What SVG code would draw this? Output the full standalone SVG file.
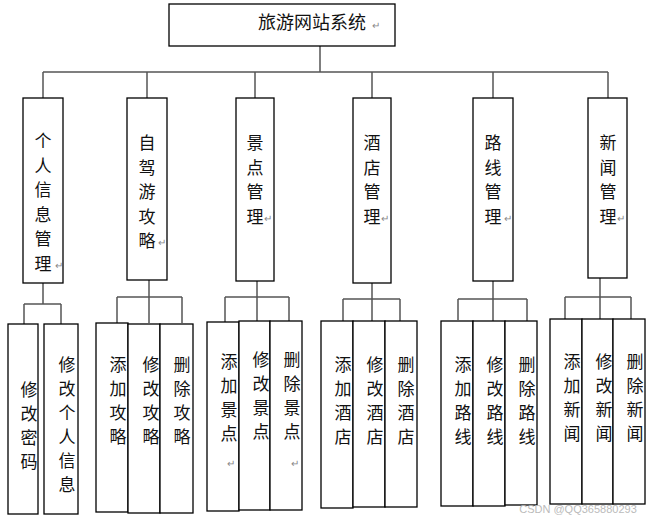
<svg xmlns="http://www.w3.org/2000/svg" width="658" height="521" viewBox="0 0 658 521">
<style>
rect{fill:#fff;stroke:#000;stroke-width:1.3}
.c{fill:none;stroke:#555;stroke-width:1.5}
text{font-family:"Noto Sans CJK SC","Noto Sans",sans-serif;font-size:17px;fill:#111;text-anchor:middle}
.m{font-size:10px;fill:#888}
</style>
<rect width="658" height="521" style="fill:#fff;stroke:none"/>
<g id="connectors">
<path class="c" d="M320 46V72M43 72H608M43 72V98M147 72V98M255 72V98M372 72V98M493 72V98M608 72V98"/>
<path class="c" d="M43 283V304M24 304H61M24 304V324M61 304V324"/>
<path class="c" d="M149 280V323M117 297H182M117 297V323M182 297V323"/>
<path class="c" d="M257 281V321M225 297H289M225 297V322M289 297V321"/>
<path class="c" d="M372 283V321M343 299H400M343 299V321M400 299V321"/>
<path class="c" d="M493 281V321M458 299H527M458 299V320M527 299V321"/>
<path class="c" d="M600 278V319M565 297H631M565 297V319M631 297V319"/>
</g>
<g id="root"><rect x="169" y="4" width="226" height="42"/><text x="312" y="29" style="font-size:18px">旅游网站系统</text><text class="m" x="376" y="29">↵</text></g>
<g id="n1"><rect x="23" y="98" width="40" height="185"/><text x="43" y="147"><tspan x="43">个</tspan><tspan x="43" dy="24.5">人</tspan><tspan x="43" dy="24.5">信</tspan><tspan x="43" dy="24.5">息</tspan><tspan x="43" dy="24.5">管</tspan><tspan x="43" dy="24.5">理</tspan></text><text class="m" x="59" y="269">↵</text></g>
<g id="n2"><rect x="127" y="98" width="40" height="182"/><text x="147" y="149"><tspan x="147">自</tspan><tspan x="147" dy="24.5">驾</tspan><tspan x="147" dy="24.5">游</tspan><tspan x="147" dy="24.5">攻</tspan><tspan x="147" dy="24.5">略</tspan></text><text class="m" x="162" y="246">↵</text></g>
<g id="n3"><rect x="236" y="98" width="38" height="183"/><text x="255" y="149"><tspan x="255">景</tspan><tspan x="255" dy="24.5">点</tspan><tspan x="255" dy="24.5">管</tspan><tspan x="255" dy="24.5">理</tspan></text><text class="m" x="268" y="222">↵</text></g>
<g id="n4"><rect x="353" y="98" width="38" height="185"/><text x="372" y="149"><tspan x="372">酒</tspan><tspan x="372" dy="24.5">店</tspan><tspan x="372" dy="24.5">管</tspan><tspan x="372" dy="24.5">理</tspan></text><text class="m" x="385" y="222">↵</text></g>
<g id="n5"><rect x="473" y="98" width="40" height="183"/><text x="493" y="149"><tspan x="493">路</tspan><tspan x="493" dy="24.5">线</tspan><tspan x="493" dy="24.5">管</tspan><tspan x="493" dy="24.5">理</tspan></text><text class="m" x="508" y="222">↵</text></g>
<g id="n6"><rect x="588" y="98" width="39" height="180"/><text x="608" y="149"><tspan x="608">新</tspan><tspan x="608" dy="24.5">闻</tspan><tspan x="608" dy="24.5">管</tspan><tspan x="608" dy="24.5">理</tspan></text><text class="m" x="621" y="222">↵</text></g>
<g id="n11"><rect x="8" y="324" width="30" height="190"/><text x="29" y="396"><tspan x="29">修</tspan><tspan x="29" dy="24">改</tspan><tspan x="29" dy="24">密</tspan><tspan x="29" dy="24">码</tspan></text></g>
<g id="n12"><rect x="44" y="324" width="34" height="190"/><text x="67" y="371"><tspan x="67">修</tspan><tspan x="67" dy="24">改</tspan><tspan x="67" dy="24">个</tspan><tspan x="67" dy="24">人</tspan><tspan x="67" dy="24">信</tspan><tspan x="67" dy="24">息</tspan></text></g>
<g id="n21"><rect x="96" y="323" width="32" height="189"/><text x="118" y="371"><tspan x="118">添</tspan><tspan x="118" dy="24">加</tspan><tspan x="118" dy="24">攻</tspan><tspan x="118" dy="24">略</tspan></text></g>
<g id="n22"><rect x="128" y="324" width="32" height="189"/><text x="151" y="371"><tspan x="151">修</tspan><tspan x="151" dy="24">改</tspan><tspan x="151" dy="24">攻</tspan><tspan x="151" dy="24">略</tspan></text></g>
<g id="n23"><rect x="160" y="324" width="33" height="189"/><text x="182" y="371"><tspan x="182">删</tspan><tspan x="182" dy="24">除</tspan><tspan x="182" dy="24">攻</tspan><tspan x="182" dy="24">略</tspan></text></g>
<g id="n31"><rect x="207" y="322" width="32" height="189"/><text x="229" y="368"><tspan x="229">添</tspan><tspan x="229" dy="24">加</tspan><tspan x="229" dy="24">景</tspan><tspan x="229" dy="24">点</tspan></text><text class="m" x="231" y="467">↵</text></g>
<g id="n32"><rect x="239" y="321" width="31" height="189"/><text x="261" y="366"><tspan x="261">修</tspan><tspan x="261" dy="24">改</tspan><tspan x="261" dy="24">景</tspan><tspan x="261" dy="24">点</tspan></text></g>
<g id="n33"><rect x="270" y="321" width="32" height="189"/><text x="292" y="366"><tspan x="292">删</tspan><tspan x="292" dy="24">除</tspan><tspan x="292" dy="24">景</tspan><tspan x="292" dy="24">点</tspan></text><text class="m" x="295" y="467">↵</text></g>
<g id="n41"><rect x="321" y="321" width="32" height="187"/><text x="343" y="371"><tspan x="343">添</tspan><tspan x="343" dy="24">加</tspan><tspan x="343" dy="24">酒</tspan><tspan x="343" dy="24">店</tspan></text></g>
<g id="n42"><rect x="353" y="321" width="32" height="186"/><text x="375" y="371"><tspan x="375">修</tspan><tspan x="375" dy="24">改</tspan><tspan x="375" dy="24">酒</tspan><tspan x="375" dy="24">店</tspan></text></g>
<g id="n43"><rect x="385" y="321" width="32" height="186"/><text x="406" y="371"><tspan x="406">删</tspan><tspan x="406" dy="24">除</tspan><tspan x="406" dy="24">酒</tspan><tspan x="406" dy="24">店</tspan></text></g>
<g id="n51"><rect x="441" y="321" width="32" height="185"/><text x="463" y="371"><tspan x="463">添</tspan><tspan x="463" dy="24">加</tspan><tspan x="463" dy="24">路</tspan><tspan x="463" dy="24">线</tspan></text></g>
<g id="n52"><rect x="473" y="321" width="32" height="185"/><text x="495" y="371"><tspan x="495">修</tspan><tspan x="495" dy="24">改</tspan><tspan x="495" dy="24">路</tspan><tspan x="495" dy="24">线</tspan></text></g>
<g id="n53"><rect x="505" y="321" width="32" height="184"/><text x="527" y="371"><tspan x="527">删</tspan><tspan x="527" dy="24">除</tspan><tspan x="527" dy="24">路</tspan><tspan x="527" dy="24">线</tspan></text></g>
<g id="n61"><rect x="550" y="319" width="32" height="185"/><text x="572" y="368"><tspan x="572">添</tspan><tspan x="572" dy="24">加</tspan><tspan x="572" dy="24">新</tspan><tspan x="572" dy="24">闻</tspan></text></g>
<g id="n62"><rect x="582" y="319" width="31" height="185"/><text x="604" y="368"><tspan x="604">修</tspan><tspan x="604" dy="24">改</tspan><tspan x="604" dy="24">新</tspan><tspan x="604" dy="24">闻</tspan></text></g>
<g id="n63"><rect x="613" y="319" width="32" height="185"/><text x="635" y="368"><tspan x="635">删</tspan><tspan x="635" dy="24">除</tspan><tspan x="635" dy="24">新</tspan><tspan x="635" dy="24">闻</tspan></text></g>
<text x="578" y="513" style="font-size:11px;fill:#bbb;font-family:'Liberation Sans',sans-serif">CSDN @QQ365880293</text>
</svg>
